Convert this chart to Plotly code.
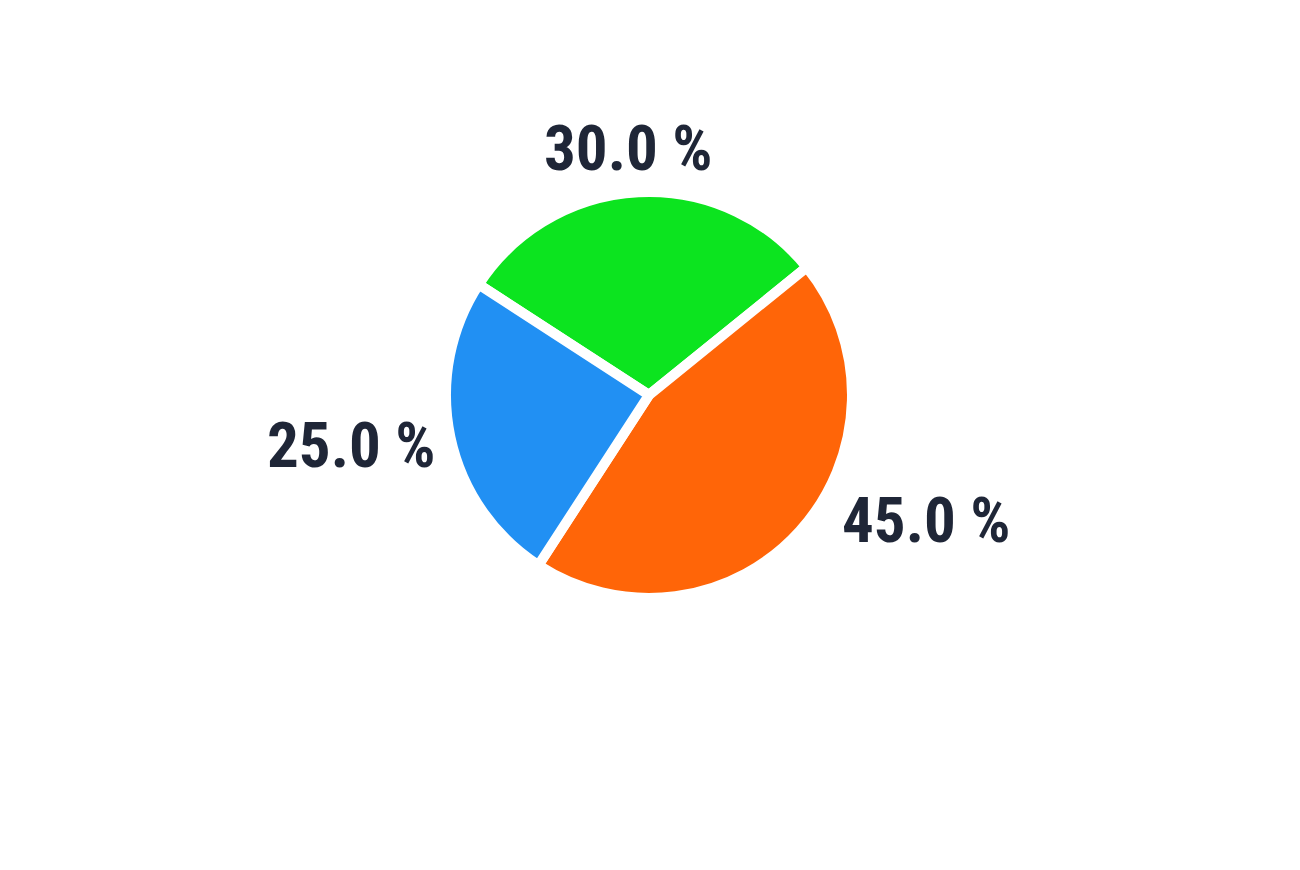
import plotly.graph_objects as go

labels = ["Green", "Orange", "Blue"]
values = [30.0, 45.0, 25.0]
colors = ["#0ce41f", "#ff6508", "#2190f3"]

# page body adds an 8px margin, so positions below are shifted by it
W, H = 1300, 870
label_px = [(620, 140), (919, 512), (343, 437)]  # green, orange, blue label centres

cx, cy = 641 / W, 1 - 387 / H
rx, ry = 203 / W, 203 / H

fig = go.Figure(
    data=go.Pie(
        labels=labels,
        values=values,
        sort=False,
        direction="clockwise",
        rotation=-57,
        marker=dict(colors=colors, line=dict(color="white", width=10)),
        textinfo="none",
        showlegend=False,
        hoverinfo="skip",
        domain=dict(x=[cx - rx, cx + rx], y=[cy - ry, cy + ry]),
    )
)

for v, (px, py) in zip(values, label_px):
    fig.add_annotation(
        x=px / W,
        y=1 - py / H,
        xref="paper",
        yref="paper",
        text=f"{v:.1f} %",
        showarrow=False,
        xanchor="center",
        yanchor="middle",
        font=dict(family="Roboto Condensed, Open Sans Condensed, sans-serif",
                  size=63, color="#1f2637", weight="bold"),
    )

fig.update_layout(
    width=W,
    height=H,
    margin=dict(l=0, r=0, t=0, b=0),
    paper_bgcolor="white",
    plot_bgcolor="white",
)
fig.write_html("out.html")
